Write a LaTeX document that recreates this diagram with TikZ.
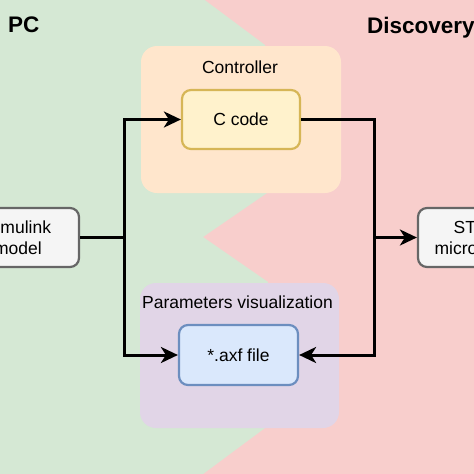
\documentclass[tikz,border=0pt]{standalone}
\usepackage{fontspec}
\setmainfont{Liberation Sans}
\usetikzlibrary{arrows.meta}
\definecolor{bggreen}{HTML}{D5E8D4}
\definecolor{bgpink}{HTML}{F8CECC}
\definecolor{ctrlfill}{HTML}{FFE6CC}
\definecolor{parfill}{HTML}{E1D5E7}
\definecolor{yelfill}{HTML}{FFF2CC}
\definecolor{yelline}{HTML}{D6B656}
\definecolor{bluefill}{HTML}{DAE8FC}
\definecolor{blueline}{HTML}{6C8EBF}
\definecolor{greyfill}{HTML}{F5F5F5}
\definecolor{greyline}{HTML}{666666}
\tikzset{
  container/.style={rounded corners=16pt, inner sep=0pt},
  blockbox/.style={rounded corners=9pt, line width=2.2pt, inner sep=0pt, align=center,
    font=\fontsize{17.5}{21}\selectfont},
  lbl/.style={inner sep=0pt, font=\fontsize{17.5}{21}\selectfont},
  ttl/.style={inner sep=0pt, anchor=base west, font=\fontsize{22.5}{26}\selectfont\bfseries},
  conn/.style={line width=3pt, black},
  arr/.style={conn, -{Stealth[length=17pt, width=16pt, inset=5pt]}},
}
\begin{document}
\begin{tikzpicture}[x=1pt, y=-1pt]
\useasboundingbox (0,0) rectangle (474,474);
\clip (0,0) rectangle (474,474);
% background
\fill[bgpink] (-5,-5) rectangle (480,480);
\fill[bggreen] (-5,-5) -- (198,-5) -- (265,45) -- (267,120) -- (267,193) -- (203,237)
  -- (268,282) -- (266,350) -- (265,428) -- (195,480) -- (-5,480) -- cycle;
% titles
\node[ttl] (pc) at (8,32) {PC};
\node[ttl] (disc) at (367,33) {Discovery};
% containers
\node[container, fill=ctrlfill, minimum width=200pt, minimum height=147pt] (ctrl) at (241,119.5) {};
\node[lbl] (ctrllbl) at (240,67) {Controller};
\node[container, fill=parfill, minimum width=199pt, minimum height=145pt] (par) at (239.5,355.5) {};
\node[lbl] (parlbl) at (237.5,302) {Parameters visualization};
% blocks
\node[blockbox, draw=yelline, fill=yelfill, minimum width=118pt, minimum height=59pt] (ccode) at (241,119.5) {C code};
\node[blockbox, draw=blueline, fill=bluefill, minimum width=119pt, minimum height=60pt] (axf) at (238.5,355) {*.axf file};
\node[blockbox, draw=greyline, fill=greyfill, minimum width=122pt, minimum height=59pt] (sim) at (18,237.5) {Simulink\\model};
\node[blockbox, draw=greyline, fill=greyfill, minimum width=148pt, minimum height=59pt] (stm) at (492,237.5) {STM32F4\\microcontroller};
% junctions
\coordinate (jl) at (124,237.5);
\coordinate (jr) at (374,237.5);
% connectors
\draw[conn] (sim.east) -- (jl);
\draw[arr] (jl) |- (ccode.west);
\draw[arr] (jl) |- (axf.west);
\draw[conn] (ccode.east) -| (jr);
\draw[arr] (jr) -- (stm.west);
\draw[arr] (jr) |- (axf.east);
\end{tikzpicture}
\end{document}
